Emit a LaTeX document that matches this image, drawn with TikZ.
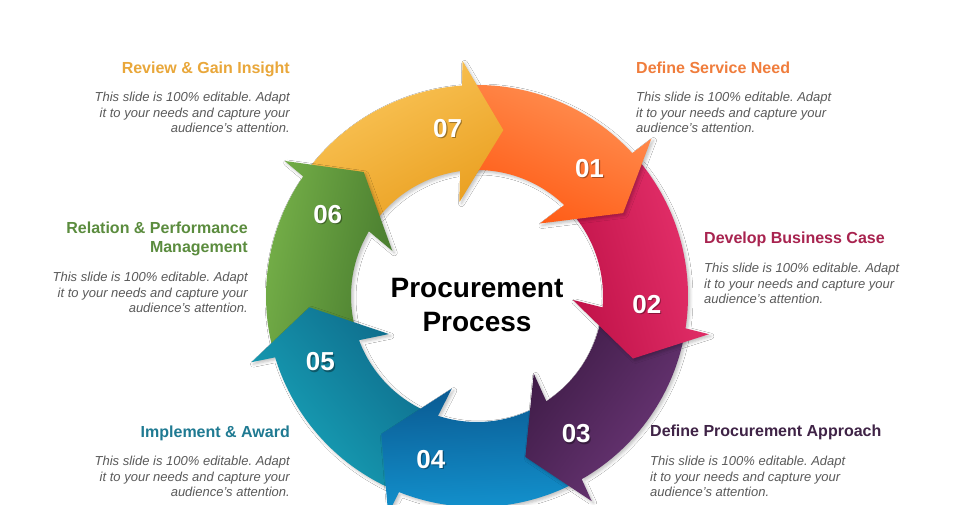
\documentclass[tikz,border=0pt]{standalone}
\usepackage{fontspec}
\setmainfont{Liberation Sans}
\usetikzlibrary{shadows.blur}
\frenchspacing

\definecolor{ylwL}{HTML}{FBC75C}
\definecolor{ylwD}{HTML}{E99E1E}
\definecolor{orgL}{HTML}{FF9255}
\definecolor{orgD}{HTML}{FF5A14}
\definecolor{pnkL}{HTML}{E8336E}
\definecolor{pnkD}{HTML}{C01248}
\definecolor{prpL}{HTML}{6E387A}
\definecolor{prpD}{HTML}{3D1B45}
\definecolor{bluL}{HTML}{1394D0}
\definecolor{bluD}{HTML}{0A5A92}
\definecolor{tealL}{HTML}{18A6BB}
\definecolor{tealD}{HTML}{0E6A8A}
\definecolor{grnL}{HTML}{78B34A}
\definecolor{grnD}{HTML}{487B2E}
\definecolor{hdYlw}{HTML}{E9A73A}
\definecolor{hdOrg}{HTML}{F07D3C}
\definecolor{hdPnk}{HTML}{A8234F}
\definecolor{hdPrp}{HTML}{3F2346}
\definecolor{hdTeal}{HTML}{1F7A92}
\definecolor{hdGrn}{HTML}{5B8C3E}
\definecolor{txtgray}{HTML}{5A5A5A}

% one ring arrow, #1 = angle of its tip
\newcommand{\ringarrow}[1]{({#1+62.43}:211) arc[start angle={#1+62.43}, end angle={#1+11.5}, radius=211]
  -- ({#1+15}:126) arc[start angle={#1+15}, end angle={#1+65.43}, radius=126]
  -- ({#1+54.43}:166) -- cycle
  ({#1+12.5}:235) -- (#1:168) -- ({#1+19.5}:96) -- cycle}
\newcommand{\ringhead}[1]{({#1+12.5}:235) -- (#1:168) -- ({#1+19.5}:96) -- cycle}

\begin{document}
\begin{tikzpicture}[x=1pt, y=-1pt,
	ringshadow/.style={blur shadow={shadow xshift=2pt, shadow yshift=-2pt, shadow blur radius=3pt, shadow opacity=25}},
	steplabel/.style={font=\bfseries\fontsize{26}{26}\selectfont, text=white, inner sep=0pt},
	labelshade/.style={font=\bfseries\fontsize{26}{26}\selectfont, text=black, opacity=0.35, inner sep=0pt},
	heading/.style={font=\bfseries\fontsize{16}{19}\selectfont, inner sep=0pt},
	blurb/.style={font=\itshape\fontsize{13}{15.5}\selectfont, text=txtgray, inner sep=0pt}]

	\fill[white] (0,0) rectangle (960,504);
	\useasboundingbox (0,0) rectangle (960,504);

	\begin{scope}[shift={(477,296)}, y=1pt]
		\foreach \k/\lc/\dc in {6/ylwL/ylwD, 5/grnL/grnD, 4/tealL/tealD, 3/bluL/bluD, 2/prpL/prpD, 1/pnkL/pnkD, 0/orgL/orgD}{
			\pgfmathsetmacro\tip{29.57-51.43*\k}
			\pgfmathsetmacro\shang{\tip-53}
			\path[ringshadow, left color=\lc, right color=\dc, shading angle=\shang] \ringarrow{\tip};
		}
		% head of 07 lies over the tail of 01
		\begin{scope}
			\clip \ringhead{-279.01};
			\path[left color=ylwL, right color=ylwD, shading angle=-332.01] \ringarrow{-279.01};
		\end{scope}

		\foreach \k in {1,...,7}{
			\node[labelshade] (s\k) at ({48.57-51.43*(\k-1)}:170) [xshift=1.2pt, yshift=-1.2pt] {0\k};
			\node[steplabel] (n\k) at ({48.57-51.43*(\k-1)}:170) {0\k};
		}
	\end{scope}

	\node[font=\bfseries\fontsize{28}{34}\selectfont, align=center] (title) at (477,305) {Procurement\\Process};

	% left column
	\node[heading, text=hdYlw, anchor=base east] (h7) at (290,73.7) {Review \& Gain Insight};
	\node[blurb, anchor=north east, align=right] (b7) at (290,92) {This slide is 100\% editable. Adapt\\ it to your needs and capture your\\ audience's attention.};
	\node[heading, text=hdGrn, anchor=north east, align=right] (h6) at (248,222) {Relation \& Performance\\ Management};
	\node[blurb, anchor=north east, align=right] (b6) at (248,272) {This slide is 100\% editable. Adapt\\ it to your needs and capture your\\ audience's attention.};
	\node[heading, text=hdTeal, anchor=base east] (h5) at (290,437.7) {Implement \& Award};
	\node[blurb, anchor=north east, align=right] (b5) at (290,456) {This slide is 100\% editable. Adapt\\ it to your needs and capture your\\ audience's attention.};

	% right column
	\node[heading, text=hdOrg, anchor=base west] (h1) at (636,73.7) {Define Service Need};
	\node[blurb, anchor=north west, align=left] (b1) at (636,92) {This slide is 100\% editable. Adapt\\ it to your needs and capture your\\ audience's attention.};
	\node[heading, text=hdPnk, anchor=base west] (h2) at (704,243.7) {Develop Business Case};
	\node[blurb, anchor=north west, align=left] (b2) at (704,263) {This slide is 100\% editable. Adapt\\ it to your needs and capture your\\ audience's attention.};
	\node[heading, text=hdPrp, anchor=base west] (h3) at (650,436.7) {Define Procurement Approach};
	\node[blurb, anchor=north west, align=left] (b3) at (650,456) {This slide is 100\% editable. Adapt\\ it to your needs and capture your\\ audience's attention.};

\end{tikzpicture}
\end{document}
